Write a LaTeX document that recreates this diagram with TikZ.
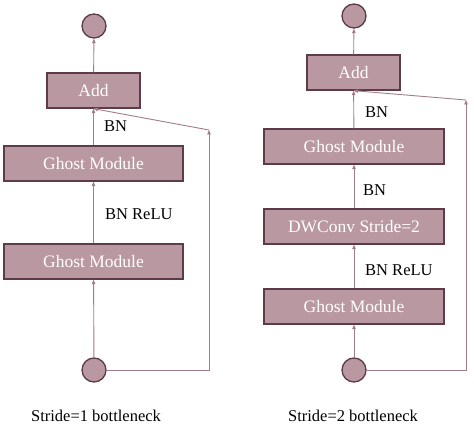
\documentclass[tikz,border=0pt]{standalone}
\usepackage{fontspec}
\setmainfont{Liberation Serif}
\usetikzlibrary{arrows.meta,positioning,calc}

\definecolor{boxfill}{RGB}{185,152,161}
\definecolor{boxline}{RGB}{92,60,72}
\definecolor{wire}{RGB}{160,125,136}

\begin{document}
\begin{tikzpicture}[
    x=1pt, y=-1pt,
    blk/.style={draw=boxline, line width=1.3pt, fill=boxfill, minimum height=35pt, inner sep=0pt, text=white, font=\fontsize{17.5}{19}\selectfont},
    circ/.style={circle, draw=boxline, line width=1.3pt, fill=boxfill, minimum size=24pt, inner sep=0pt},
    lbl/.style={anchor=west, inner sep=0pt, font=\fontsize{16.5}{18}\selectfont},
    arrow/.style={-{Triangle[length=4.5pt,width=3.5pt]}, draw=wire, line width=0.9pt}
]
\useasboundingbox (0,0) rectangle (474,427);

% Stride=1 (left side)
\node[circ] (out1) at (94,26) {};
\node[blk, minimum width=93pt] (add1) at (93.5,90.5) {Add};
\node[blk, minimum width=179pt] (gma1) at (93.5,163.5) {Ghost Module};
\node[blk, minimum width=179pt] (gmb1) at (93.5,261.5) {Ghost Module};
\node[circ] (in1) at (94,370) {};
\coordinate (sk1) at (209,130);
\node[lbl] (bn1) at (104,126) {BN};
\node[lbl] (bnr1) at (105,214) {BN ReLU};
\node (cap1) at (96,416) {\fontsize{16.5}{18}\selectfont Stride=1 bottleneck};

\draw[arrow] (add1) -- (out1);
\draw[arrow] (gma1) -- (add1);
\draw[arrow] (gmb1) -- (gma1);
\draw[arrow] (in1) -- (gmb1);
\draw[arrow] (in1.east) -| (sk1);
\draw[arrow] (sk1) -- (add1.south);

% Stride=2 (right side)
\node[circ] (out2) at (354,16) {};
\node[blk, minimum width=93pt] (add2) at (353.5,72.5) {Add};
\node[blk, minimum width=180pt] (gma2) at (354,146.5) {Ghost Module};
\node[blk, minimum width=180pt] (dw2) at (354,226.5) {DWConv Stride=2};
\node[blk, minimum width=180pt] (gmb2) at (354,306.5) {Ghost Module};
\node[circ] (in2) at (354,370) {};
\coordinate (sk2) at (466,100);
\node[lbl] (bn2) at (365,112) {BN};
\node[lbl] (bn3) at (363,190) {BN};
\node[lbl] (bnr2) at (365,270) {BN ReLU};
\node (cap2) at (353,416) {\fontsize{16.5}{18}\selectfont Stride=2 bottleneck};

\draw[arrow] (add2) -- (out2);
\draw[arrow] (gma2) -- (add2);
\draw[arrow] (dw2) -- (gma2);
\draw[arrow] (gmb2) -- (dw2);
\draw[arrow] (in2) -- (gmb2);
\draw[arrow] (in2.east) -| (sk2);
\draw[arrow] (sk2) -- (add2.south);
\end{tikzpicture}
\end{document}
